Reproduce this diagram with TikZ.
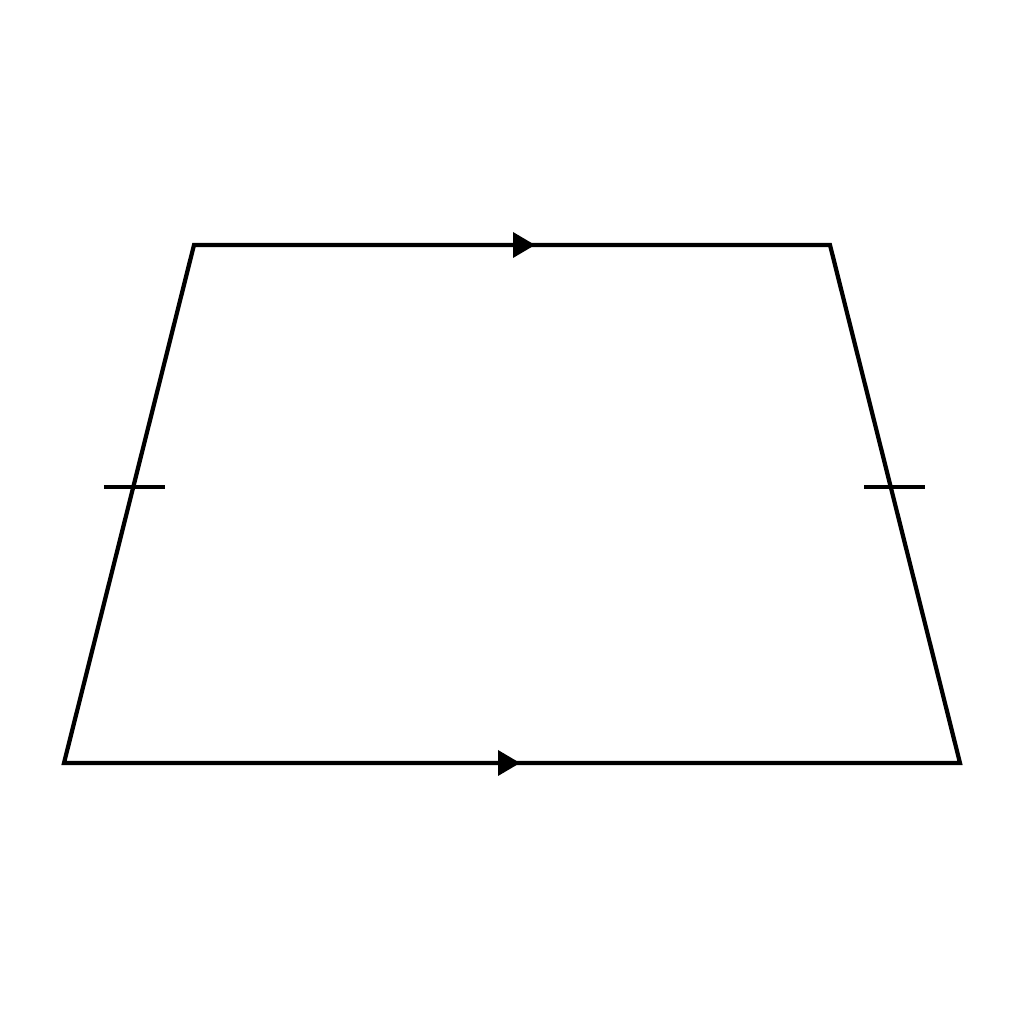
\documentclass[tikz,border=0pt]{standalone}
\usepackage{amsmath}
\usepackage{tikz}

\begin{document}
\begin{tikzpicture}
[line width=1.2pt,
 tri/.style={fill=black}]
\useasboundingbox (0,0) rectangle (10.24,10.24);
\coordinate (A) at (0.64,2.61);
\coordinate (B) at (9.60,2.61);
\coordinate (C) at (8.30,7.79);
\coordinate (D) at (1.94,7.79);
\draw (A) -- (B) -- (C) -- (D) -- cycle;
% parallel marks
\fill[tri] (5.13,7.92) -- (5.35,7.79) -- (5.13,7.66) -- cycle;
\fill[tri] (4.98,2.74) -- (5.20,2.61) -- (4.98,2.48) -- cycle;
% equal legs
\foreach \x in {1.04,8.64} \draw (\x,5.37) -- (\x+0.61,5.37);
\end{tikzpicture}
\end{document}
